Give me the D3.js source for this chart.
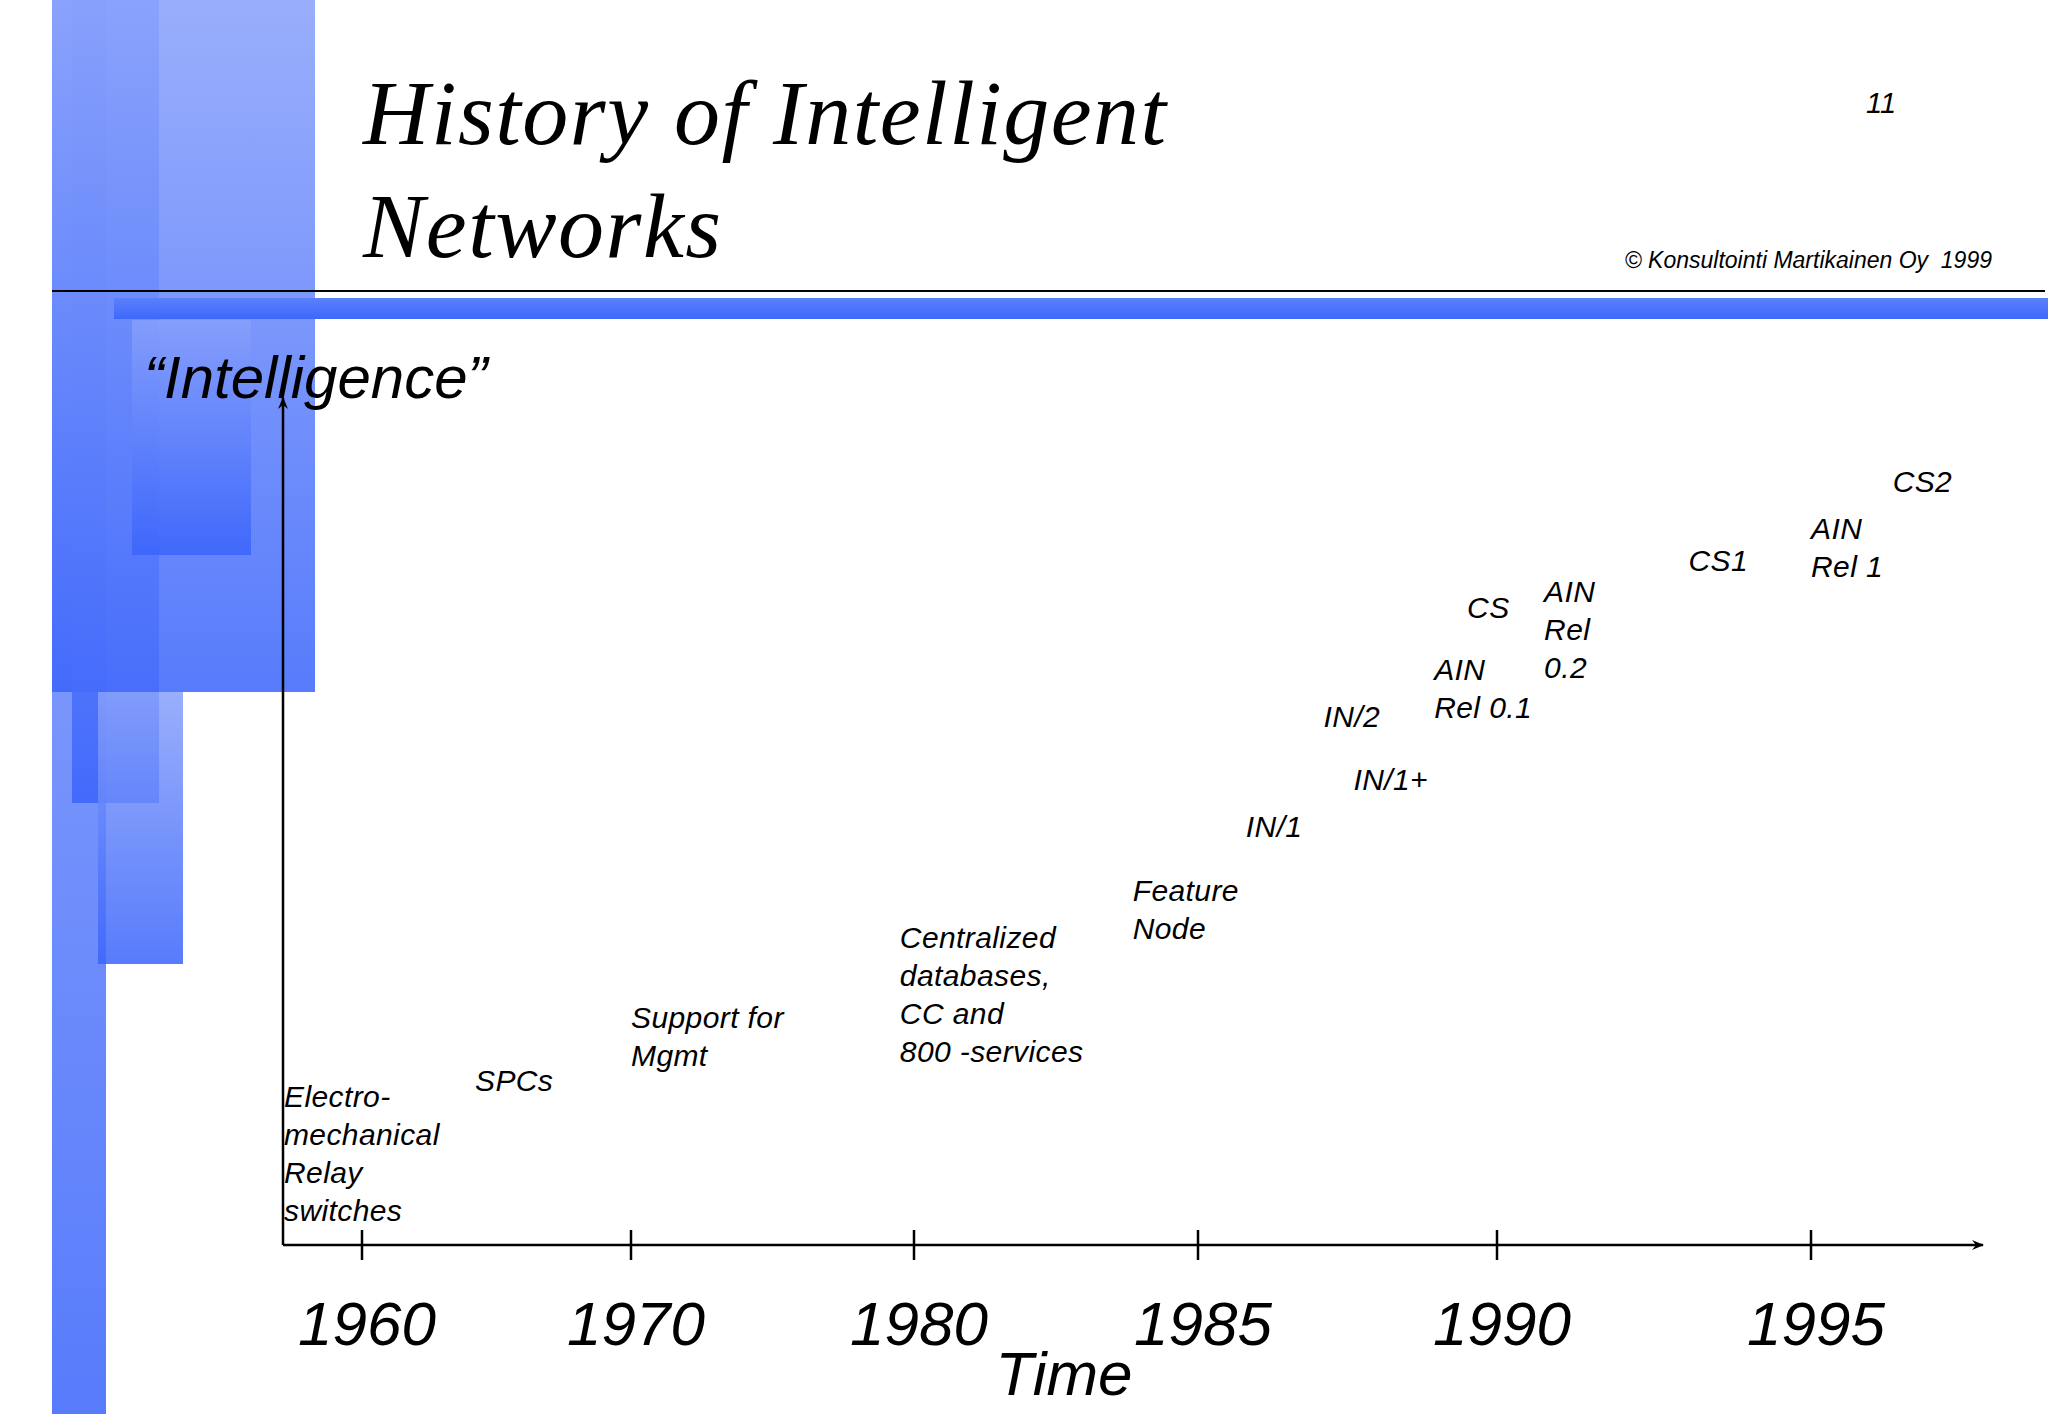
<!DOCTYPE html>
<html>
<head>
<meta charset="utf-8">
<script src="https://cdn.jsdelivr.net/npm/d3@7"></script>
<style>
  body { margin: 0; background: #fff; }
  svg { display: block; }
  .sans { font-family: "Liberation Sans", Arial, sans-serif; font-style: italic; }
</style>
</head>
<body>
<svg id="chart" width="2048" height="1418"></svg>
<script>
/* data */
const years = [1960, 1970, 1980, 1985, 1990, 1995];
const milestones = [
  "Electro-|mechanical|Relay|switches", "SPCs", "Support for|Mgmt",
  "Centralized|databases,|CC and|800 -services", "Feature|Node",
  "IN/1", "IN/1+", "IN/2", "AIN|Rel 0.1", "CS", "AIN|Rel|0.2",
  "CS1", "AIN|Rel 1", "CS2"
];
const milestoneYears = [1957.1, 1964.2, 1970, 1979.5, 1983.85, 1985.8, 1987.6, 1987.1, 1988.95, 1989.5, 1990.75, 1993.05, 1995.0, 1996.3];
const intelligence = [16.3, 18.2, 25.6, 35.1, 40.6, 48.2, 53.7, 61.2, 66.7, 74.0, 75.9, 79.6, 83.4, 88.9];

const svg = d3.select('#chart');
const defs = svg.append('defs');

function grad(id, top, bottom) {
  const g = defs.append('linearGradient').attr('id', id)
    .attr('x1', 0).attr('y1', 0).attr('x2', 0).attr('y2', 1);
  g.append('stop').attr('offset', '0%').attr('stop-color', top);
  g.append('stop').attr('offset', '100%').attr('stop-color', bottom);
}
grad('gBlue', '#87a0fb', '#3a64fb');
grad('gBand', '#5a80fb', '#3f68fb');

/* decorative slide background */
const blocks = [
  [52, 0, 54, 1414],
  [52, 0, 263, 692],
  [72, 0, 87, 803],
  [98, 692, 85, 272],
  [132, 320, 119, 235]
];
svg.selectAll('rect.deco').data(blocks).join('rect')
  .attr('class', 'deco')
  .attr('x', d => d[0]).attr('y', d => d[1])
  .attr('width', d => d[2]).attr('height', d => d[3])
  .attr('fill', 'url(#gBlue)').attr('opacity', 0.85);

svg.append('rect').attr('x', 114).attr('y', 298).attr('width', 1934).attr('height', 21)
  .attr('fill', 'url(#gBand)');
svg.append('line').attr('x1', 52).attr('x2', 2045).attr('y1', 291).attr('y2', 291)
  .attr('stroke', '#000').attr('stroke-width', 2);

/* titles */
const title = svg.append('text').attr('font-family', '"Liberation Serif", "Times New Roman", serif')
  .attr('font-style', 'italic').attr('font-size', 92).attr('letter-spacing', 1.5).attr('fill', '#000');
title.append('tspan').attr('x', 363).attr('y', 144).text('History of Intelligent');
title.append('tspan').attr('x', 363).attr('y', 257).text('Networks');

svg.append('text').attr('class', 'sans').attr('x', 1881).attr('y', 113)
  .attr('font-size', 29).attr('text-anchor', 'middle').text('11');
svg.append('text').attr('class', 'sans').attr('x', 1992).attr('y', 268)
  .attr('font-size', 23).attr('text-anchor', 'end').attr('xml:space', 'preserve')
  .text('© Konsultointi Martikainen Oy  1999');

/* axes */
const x = d3.scaleLinear().domain(years).range([362, 631, 914, 1198, 1497, 1811]);
const y = d3.scaleLinear().domain([0, 100]).range([1245, 398]);

defs.append('marker').attr('id', 'arrow').attr('viewBox', '0 0 12 10')
  .attr('refX', 11).attr('refY', 5).attr('markerWidth', 12).attr('markerHeight', 10)
  .attr('markerUnits', 'userSpaceOnUse').attr('orient', 'auto')
  .append('path').attr('d', 'M0,0 L12,5 L0,10 L4,5 Z').attr('fill', '#000');

svg.append('line').attr('x1', 283).attr('y1', y(0)).attr('x2', 283).attr('y2', y(100))
  .attr('stroke', '#000').attr('stroke-width', 2.5).attr('marker-end', 'url(#arrow)');
svg.append('line').attr('x1', 283).attr('y1', y(0)).attr('x2', 1983).attr('y2', y(0))
  .attr('stroke', '#000').attr('stroke-width', 2.5).attr('marker-end', 'url(#arrow)');

svg.selectAll('line.tick').data(years).join('line')
  .attr('class', 'tick')
  .attr('x1', d => x(d)).attr('x2', d => x(d))
  .attr('y1', y(0) - 15).attr('y2', y(0) + 15)
  .attr('stroke', '#000').attr('stroke-width', 2.5);
svg.selectAll('text.year').data(years).join('text')
  .attr('class', 'sans year')
  .attr('x', d => x(d) + 5).attr('y', 1345)
  .attr('text-anchor', 'middle').attr('font-size', 62).text(d => d);

svg.append('text').attr('class', 'sans').attr('x', 1064).attr('y', 1395)
  .attr('text-anchor', 'middle').attr('font-size', 62).text('Time');
svg.append('text').attr('class', 'sans').attr('x', 144).attr('y', 398)
  .attr('font-size', 60).text('“Intelligence”');

/* milestone labels */
const rows = milestones.map((m, i) => ({ lines: m.split('|'), yr: milestoneYears[i], v: intelligence[i] }));
const labels = svg.selectAll('text.ms').data(rows).join('text')
  .attr('class', 'sans ms').attr('font-size', 30).attr('letter-spacing', 0.4)
  .attr('x', d => x(d.yr)).attr('y', d => y(d.v));
labels.selectAll('tspan').data(d => d.lines.map(l => ({ l, x: x(d.yr) }))).join('tspan')
  .attr('x', d => d.x).attr('dy', (d, i) => i === 0 ? 0 : 38).text(d => d.l);
</script>
</body>
</html>
